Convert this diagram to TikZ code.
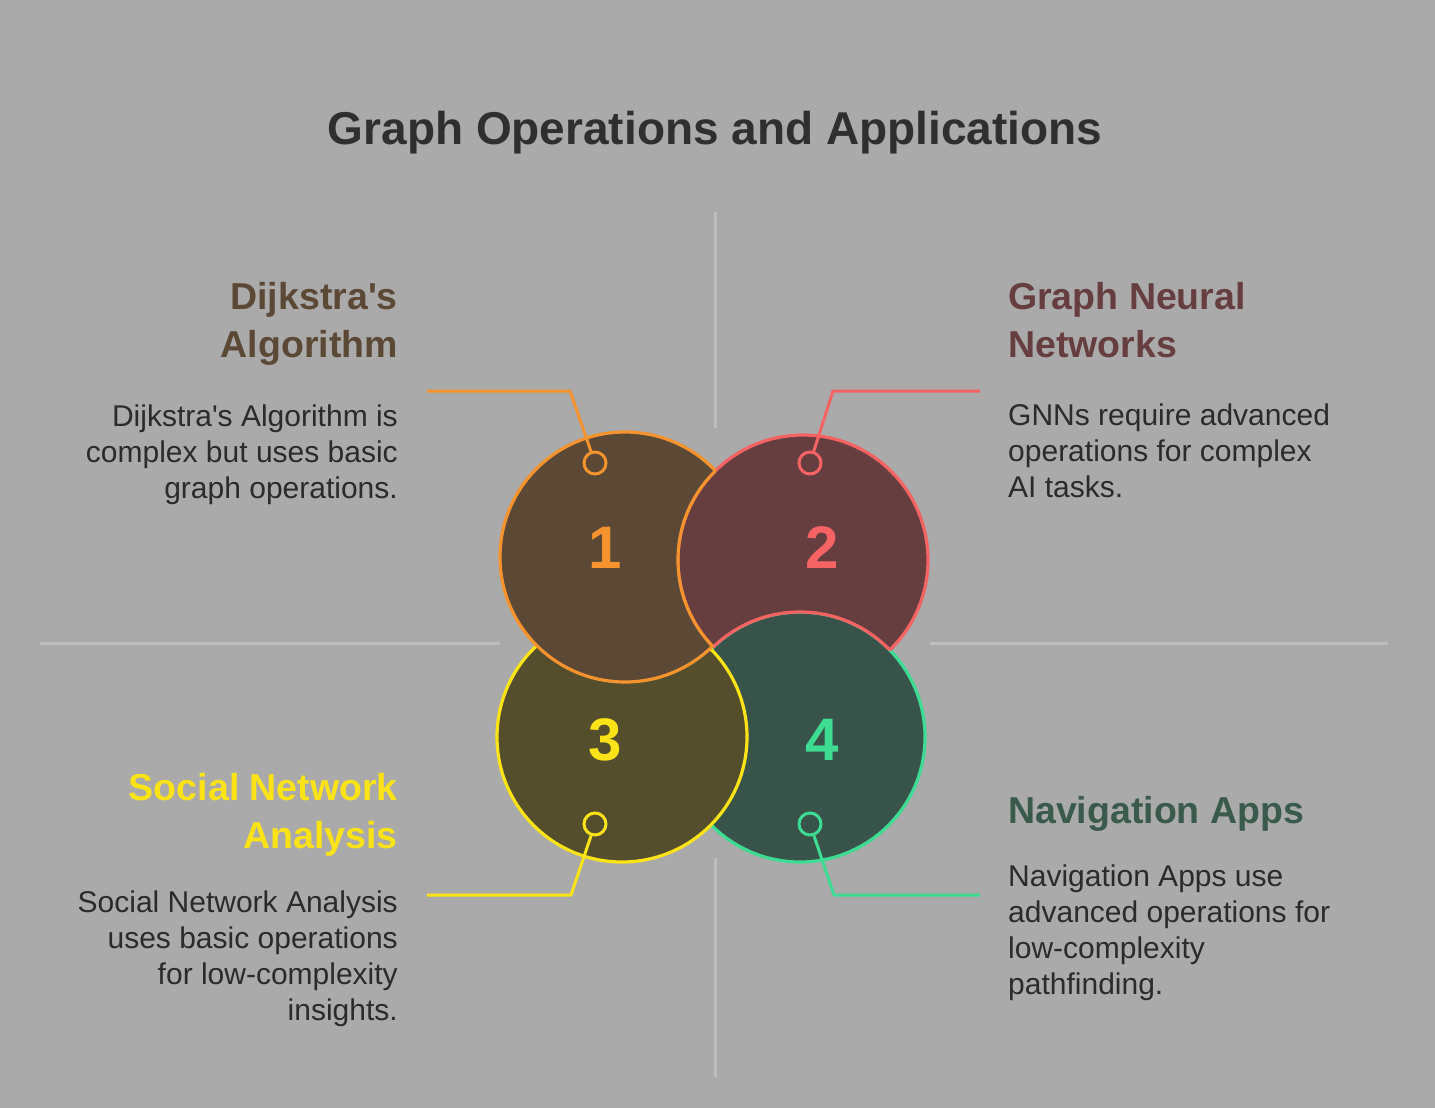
\documentclass[tikz,border=0pt]{standalone}
\usepackage{fontspec}
\setmainfont{Liberation Sans}[Ligatures=TeXOff]
\definecolor{bg}{HTML}{AAAAAA}
\definecolor{divcol}{HTML}{BEBEBE}
\definecolor{titlecol}{HTML}{2F2F2F}
\definecolor{bodycol}{HTML}{2B2B2B}
\definecolor{fillA}{HTML}{5B4935}
\definecolor{lineA}{HTML}{F5932F}
\definecolor{fillB}{HTML}{673E40}
\definecolor{lineB}{HTML}{F56363}
\definecolor{fillC}{HTML}{544E2D}
\definecolor{lineC}{HTML}{FBE318}
\definecolor{fillD}{HTML}{38544A}
\definecolor{lineD}{HTML}{3EDC92}
\definecolor{headD}{HTML}{3A5A4C}
\tikzset{
  ring/.style={line width=3.2pt},
  divider/.style={draw=divcol, line width=3pt},
  dotmark/.style={circle, draw, line width=3pt, minimum size=22pt, inner sep=0pt},
  conn/.style={line width=3pt, line join=round},
  headtext/.style={font=\fontsize{37.5}{48}\selectfont\bfseries, inner sep=0pt},
  bodytext/.style={font=\fontsize{30}{36}\selectfont, text=bodycol, inner sep=0pt},
  numtext/.style={font=\fontsize{60}{62}\selectfont\bfseries, inner sep=0pt},
}
\def\R{125pt}
\begin{document}
\begin{tikzpicture}[x=1pt,y=-1pt]
\fill[bg] (0,0) rectangle (1435,1108);
\useasboundingbox (0,0) rectangle (1435,1108);

% dividers
\draw[divider] (715,212) -- (715,428);
\draw[divider] (715,858) -- (715,1077);
\draw[divider] (40,643) -- (500,643);
\draw[divider] (930,643) -- (1388,643);

% title
\node[font=\fontsize{46}{55}\selectfont\bfseries, text=titlecol, anchor=base, inner sep=0pt] (title) at (715,144) {Graph Operations and Applications};

% circle centres
\coordinate (C1) at (625,557);
\coordinate (C2) at (803,560);
\coordinate (C3) at (622,737);
\coordinate (C4) at (800,737);

% circle 4
\fill[fillD] (C4) circle[radius=\R];
\draw[lineD, ring] (C4) circle[radius=\R];
% circle 3
\fill[fillC] (C3) circle[radius=\R];
\draw[lineC, ring] (C3) circle[radius=\R];
% region 2 : circle 2 minus circle 4
\begin{scope}[even odd rule]
  \clip (0,0) rectangle (1435,1108) (C4) circle[radius=\R];
  \fill[fillB] (C2) circle[radius=\R];
  \draw[lineB, ring] (C2) circle[radius=\R];
\end{scope}
\begin{scope}
  \clip (C2) circle[radius=\R];
  \draw[lineB, ring] (C4) circle[radius=\R];
\end{scope}
% region 1 : circle 1 minus circle 2
\begin{scope}[even odd rule]
  \clip (0,0) rectangle (1435,1108) (C2) circle[radius=\R];
  \fill[fillA] (C1) circle[radius=\R];
  \draw[lineA, ring] (C1) circle[radius=\R];
\end{scope}
\begin{scope}
  \clip (C1) circle[radius=\R];
  \draw[lineA, ring] (C2) circle[radius=\R];
\end{scope}

% numbers
\node[numtext, text=lineA] (n1) at (605,548) {1};
\node[numtext, text=lineB] (n2) at (822,548) {2};
\node[numtext, text=lineC] (n3) at (605,740) {3};
\node[numtext, text=lineD] (n4) at (822,740) {4};

% connectors
\node[dotmark, draw=lineA] (d1) at (595,463) {};
\node[dotmark, draw=lineB] (d2) at (810,463) {};
\node[dotmark, draw=lineC] (d3) at (595,824) {};
\node[dotmark, draw=lineD] (d4) at (810,824) {};
\coordinate (k1) at (570,391); \coordinate (e1) at (427,391);
\coordinate (k2) at (833,391); \coordinate (e2) at (980,391);
\coordinate (k3) at (571,895); \coordinate (e3) at (427,895);
\coordinate (k4) at (834,895); \coordinate (e4) at (980,895);
\draw[conn, lineA] (d1) -- (k1) -- (e1);
\draw[conn, lineB] (d2) -- (k2) -- (e2);
\draw[conn, lineC] (d3) -- (k3) -- (e3);
\draw[conn, lineD] (d4) -- (k4) -- (e4);

% texts (base anchor = baseline of last line)
\node[headtext, text=fillA, align=right, anchor=base east] (h1) at (398,357) {Dijkstra's\\Algorithm};
\node[bodytext, align=right, anchor=base east] (b1) at (398,498) {Dijkstra's Algorithm is\\complex but uses basic\\graph operations.};

\node[headtext, text=fillB, align=left, anchor=base west] (h2) at (1008,357) {Graph Neural\\Networks};
\node[bodytext, align=left, anchor=base west] (b2) at (1008,497) {GNNs require advanced\\operations for complex\\AI tasks.};

\node[headtext, text=lineC, align=right, anchor=base east] (h3) at (398,848) {Social Network\\Analysis};
\node[bodytext, align=right, anchor=base east] (b3) at (398,1020) {Social Network Analysis\\uses basic operations\\for low-complexity\\insights.};

\node[headtext, text=headD, align=left, anchor=base west] (h4) at (1008,823) {Navigation Apps};
\node[bodytext, align=left, anchor=base west] (b4) at (1008,994) {Navigation Apps use\\advanced operations for\\low-complexity\\pathfinding.};
\end{tikzpicture}
\end{document}
